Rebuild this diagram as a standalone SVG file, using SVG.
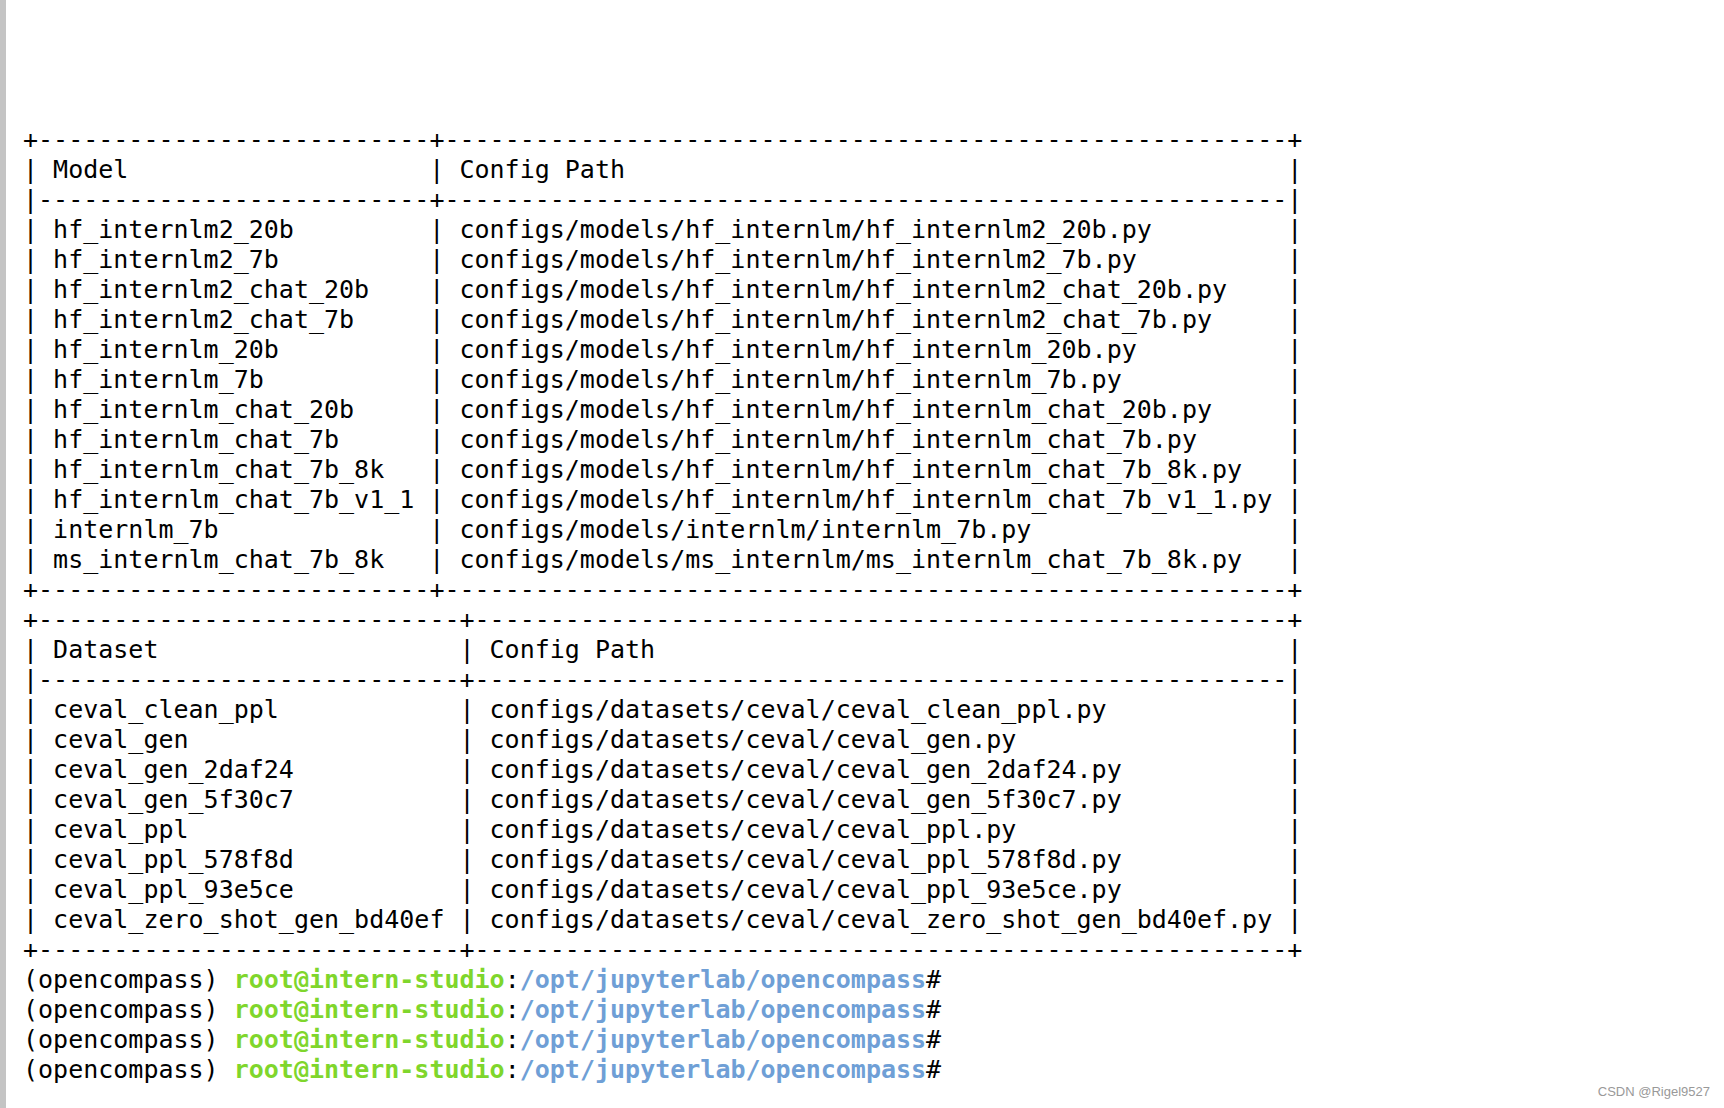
<svg xmlns="http://www.w3.org/2000/svg" width="1724" height="1108" viewBox="0 0 1724 1108">
<style>
text{font-family:"DejaVu Sans Mono","Liberation Mono",monospace;font-size:25px;fill:#000;white-space:pre}
.g{fill:#7fd62c;font-weight:bold}
.b{fill:#6f9fd6;font-weight:bold}
.wm{font-family:"Liberation Sans",Arial,sans-serif;font-size:13px;fill:#999}
</style>
<rect width="1724" height="1108" fill="#fff"/>
<rect x="0" y="0" width="6" height="1108" fill="#c4c4c4"/>
<g id="models-table">
<text x="23" y="148">+--------------------------+--------------------------------------------------------+</text>
<text x="23" y="178">|</text><text x="53.1" y="178">Model</text><text x="429.35" y="178">|</text><text x="459.45" y="178">Config Path</text><text x="1287.2" y="178">|</text>
<text x="23" y="208">|--------------------------+--------------------------------------------------------|</text>
<g id="model-rows">
<text x="23" y="238">|</text><text x="53.1" y="238">hf_internlm2_20b</text><text x="429.35" y="238">|</text><text x="459.45" y="238">configs/models/hf_internlm/hf_internlm2_20b.py</text><text x="1287.2" y="238">|</text>
<text x="23" y="268">|</text><text x="53.1" y="268">hf_internlm2_7b</text><text x="429.35" y="268">|</text><text x="459.45" y="268">configs/models/hf_internlm/hf_internlm2_7b.py</text><text x="1287.2" y="268">|</text>
<text x="23" y="298">|</text><text x="53.1" y="298">hf_internlm2_chat_20b</text><text x="429.35" y="298">|</text><text x="459.45" y="298">configs/models/hf_internlm/hf_internlm2_chat_20b.py</text><text x="1287.2" y="298">|</text>
<text x="23" y="328">|</text><text x="53.1" y="328">hf_internlm2_chat_7b</text><text x="429.35" y="328">|</text><text x="459.45" y="328">configs/models/hf_internlm/hf_internlm2_chat_7b.py</text><text x="1287.2" y="328">|</text>
<text x="23" y="358">|</text><text x="53.1" y="358">hf_internlm_20b</text><text x="429.35" y="358">|</text><text x="459.45" y="358">configs/models/hf_internlm/hf_internlm_20b.py</text><text x="1287.2" y="358">|</text>
<text x="23" y="388">|</text><text x="53.1" y="388">hf_internlm_7b</text><text x="429.35" y="388">|</text><text x="459.45" y="388">configs/models/hf_internlm/hf_internlm_7b.py</text><text x="1287.2" y="388">|</text>
<text x="23" y="418">|</text><text x="53.1" y="418">hf_internlm_chat_20b</text><text x="429.35" y="418">|</text><text x="459.45" y="418">configs/models/hf_internlm/hf_internlm_chat_20b.py</text><text x="1287.2" y="418">|</text>
<text x="23" y="448">|</text><text x="53.1" y="448">hf_internlm_chat_7b</text><text x="429.35" y="448">|</text><text x="459.45" y="448">configs/models/hf_internlm/hf_internlm_chat_7b.py</text><text x="1287.2" y="448">|</text>
<text x="23" y="478">|</text><text x="53.1" y="478">hf_internlm_chat_7b_8k</text><text x="429.35" y="478">|</text><text x="459.45" y="478">configs/models/hf_internlm/hf_internlm_chat_7b_8k.py</text><text x="1287.2" y="478">|</text>
<text x="23" y="508">|</text><text x="53.1" y="508">hf_internlm_chat_7b_v1_1</text><text x="429.35" y="508">|</text><text x="459.45" y="508">configs/models/hf_internlm/hf_internlm_chat_7b_v1_1.py</text><text x="1287.2" y="508">|</text>
<text x="23" y="538">|</text><text x="53.1" y="538">internlm_7b</text><text x="429.35" y="538">|</text><text x="459.45" y="538">configs/models/internlm/internlm_7b.py</text><text x="1287.2" y="538">|</text>
<text x="23" y="568">|</text><text x="53.1" y="568">ms_internlm_chat_7b_8k</text><text x="429.35" y="568">|</text><text x="459.45" y="568">configs/models/ms_internlm/ms_internlm_chat_7b_8k.py</text><text x="1287.2" y="568">|</text>
</g>
<text x="23" y="598">+--------------------------+--------------------------------------------------------+</text>
</g>
<g id="datasets-table">
<text x="23" y="628">+----------------------------+------------------------------------------------------+</text>
<text x="23" y="658">|</text><text x="53.1" y="658">Dataset</text><text x="459.45" y="658">|</text><text x="489.55" y="658">Config Path</text><text x="1287.2" y="658">|</text>
<text x="23" y="688">|----------------------------+------------------------------------------------------|</text>
<g id="dataset-rows">
<text x="23" y="718">|</text><text x="53.1" y="718">ceval_clean_ppl</text><text x="459.45" y="718">|</text><text x="489.55" y="718">configs/datasets/ceval/ceval_clean_ppl.py</text><text x="1287.2" y="718">|</text>
<text x="23" y="748">|</text><text x="53.1" y="748">ceval_gen</text><text x="459.45" y="748">|</text><text x="489.55" y="748">configs/datasets/ceval/ceval_gen.py</text><text x="1287.2" y="748">|</text>
<text x="23" y="778">|</text><text x="53.1" y="778">ceval_gen_2daf24</text><text x="459.45" y="778">|</text><text x="489.55" y="778">configs/datasets/ceval/ceval_gen_2daf24.py</text><text x="1287.2" y="778">|</text>
<text x="23" y="808">|</text><text x="53.1" y="808">ceval_gen_5f30c7</text><text x="459.45" y="808">|</text><text x="489.55" y="808">configs/datasets/ceval/ceval_gen_5f30c7.py</text><text x="1287.2" y="808">|</text>
<text x="23" y="838">|</text><text x="53.1" y="838">ceval_ppl</text><text x="459.45" y="838">|</text><text x="489.55" y="838">configs/datasets/ceval/ceval_ppl.py</text><text x="1287.2" y="838">|</text>
<text x="23" y="868">|</text><text x="53.1" y="868">ceval_ppl_578f8d</text><text x="459.45" y="868">|</text><text x="489.55" y="868">configs/datasets/ceval/ceval_ppl_578f8d.py</text><text x="1287.2" y="868">|</text>
<text x="23" y="898">|</text><text x="53.1" y="898">ceval_ppl_93e5ce</text><text x="459.45" y="898">|</text><text x="489.55" y="898">configs/datasets/ceval/ceval_ppl_93e5ce.py</text><text x="1287.2" y="898">|</text>
<text x="23" y="928">|</text><text x="53.1" y="928">ceval_zero_shot_gen_bd40ef</text><text x="459.45" y="928">|</text><text x="489.55" y="928">configs/datasets/ceval/ceval_zero_shot_gen_bd40ef.py</text><text x="1287.2" y="928">|</text>
</g>
<text x="23" y="958">+----------------------------+------------------------------------------------------+</text>
</g>
<g id="prompts">
<text x="23" y="988">(opencompass) <tspan class="g">root@intern-studio</tspan>:<tspan class="b">/opt/jupyterlab/opencompass</tspan>#</text>
<text x="23" y="1018">(opencompass) <tspan class="g">root@intern-studio</tspan>:<tspan class="b">/opt/jupyterlab/opencompass</tspan>#</text>
<text x="23" y="1048">(opencompass) <tspan class="g">root@intern-studio</tspan>:<tspan class="b">/opt/jupyterlab/opencompass</tspan>#</text>
<text x="23" y="1078">(opencompass) <tspan class="g">root@intern-studio</tspan>:<tspan class="b">/opt/jupyterlab/opencompass</tspan>#</text>
</g>
<text class="wm" x="1710" y="1096" text-anchor="end">CSDN @Rigel9527</text>
</svg>
